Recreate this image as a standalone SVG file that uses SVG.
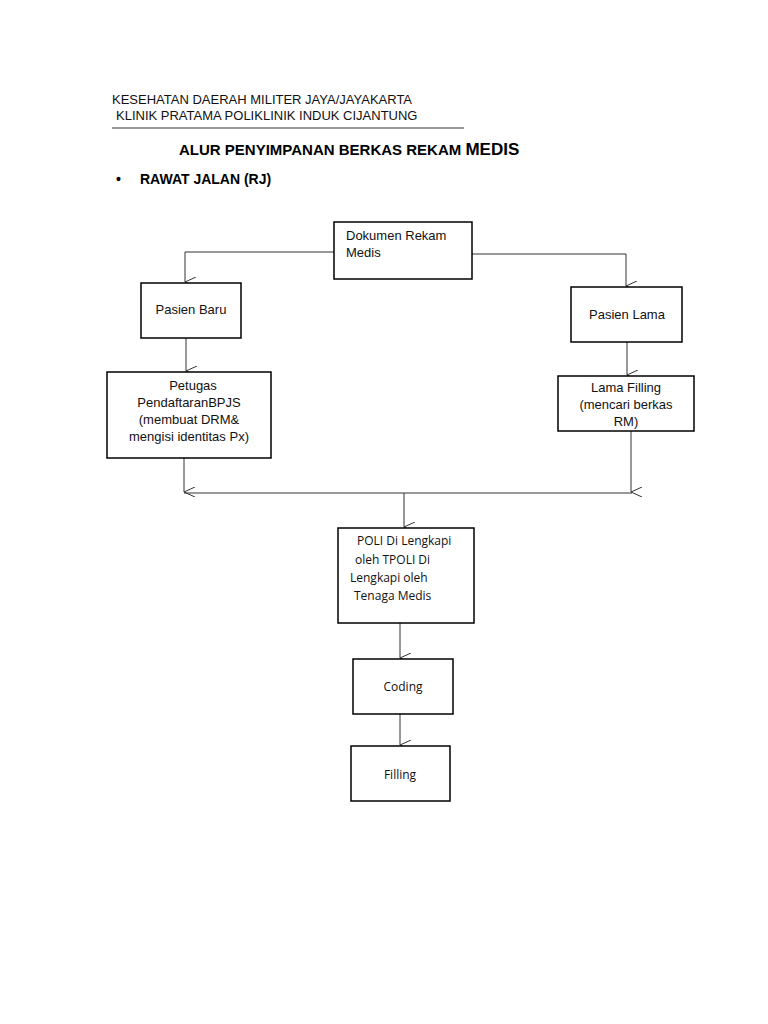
<svg xmlns="http://www.w3.org/2000/svg" width="768" height="1024" viewBox="0 0 768 1024">
<style>
.b{fill:#fff;stroke:#000;stroke-width:1.5}
.t{font-family:"Liberation Sans",Arial,sans-serif;font-size:13px;fill:#111}
.c{font-family:"Open Sans","Liberation Sans",sans-serif;font-size:12px;fill:#111}
.l{fill:none;stroke:#333;stroke-width:1}
</style>
<defs><marker id="a" markerWidth="10" markerHeight="12" refX="5" refY="11" orient="auto" markerUnits="userSpaceOnUse" viewBox="0 0 10 12"><path d="M0,0 L5,11 L10,0" fill="none" stroke="#333" stroke-width="1"/></marker></defs>
<rect width="768" height="1024" fill="#fff"/>
<text class="t" x="112" y="104" font-size="14">KESEHATAN DAERAH MILITER JAYA/JAYAKARTA</text>
<text class="t" x="116" y="120" font-size="14">KLINIK PRATAMA POLIKLINIK INDUK CIJANTUNG</text>
<line x1="112" y1="128" x2="464" y2="128" stroke="#777" stroke-width="1.5"/>
<text x="179" y="155" font-family="Liberation Sans,Arial,sans-serif" font-weight="bold" font-size="15">ALUR PENYIMPANAN BERKAS REKAM <tspan font-size="17">MEDIS</tspan></text>
<text x="116" y="184" font-family="Liberation Sans,Arial,sans-serif" font-weight="bold" font-size="14">•</text>
<text x="140" y="184" font-family="Liberation Sans,Arial,sans-serif" font-weight="bold" font-size="14">RAWAT JALAN (RJ)</text>
<g id="connectors">
<path class="l" d="M334,252 H185 V282" marker-end="url(#a)"/>
<path class="l" d="M472,254 H626 V286" marker-end="url(#a)"/>
<path class="l" d="M186,338 V371" marker-end="url(#a)"/>
<path class="l" d="M627,342 V375" marker-end="url(#a)"/>
<path class="l" d="M184,458 V492" marker-end="url(#a)"/>
<path class="l" d="M631,431 V492" marker-end="url(#a)"/>
<path class="l" d="M184,493 H632"/>
<path class="l" d="M404,493 V527" marker-end="url(#a)"/>
<path class="l" d="M400,623 V658" marker-end="url(#a)"/>
<path class="l" d="M400,714 V745" marker-end="url(#a)"/>
</g>
<g id="dokumen"><rect class="b" x="334" y="222" width="138" height="57"/><text class="t" x="346" y="240">Dokumen Rekam</text><text class="t" x="346" y="257">Medis</text></g>
<g id="baru"><rect class="b" x="141" y="283" width="100" height="55"/><text class="t" x="191" y="314" text-anchor="middle">Pasien Baru</text></g>
<g id="petugas"><rect class="b" x="107" y="372" width="164" height="86"/>
<text class="t" text-anchor="middle"><tspan x="193" y="390">Petugas</tspan><tspan x="189" y="407">PendaftaranBPJS</tspan><tspan x="189" y="424">(membuat DRM&amp;</tspan><tspan x="189" y="441">mengisi identitas Px)</tspan></text></g>
<g id="lama"><rect class="b" x="571" y="287" width="111" height="55"/><text class="t" x="627" y="319" text-anchor="middle">Pasien Lama</text></g>
<g id="lamafilling"><rect class="b" x="558" y="376" width="136" height="55"/>
<text class="t" text-anchor="middle"><tspan x="626" y="392">Lama Filling</tspan><tspan x="626" y="409">(mencari berkas</tspan><tspan x="626" y="426">RM)</tspan></text></g>
<g id="poli"><rect class="b" x="338" y="528" width="136" height="95"/>
<text class="c"><tspan x="357" y="545">POLI Di Lengkapi</tspan><tspan x="355" y="564">oleh TPOLI Di</tspan><tspan x="350" y="582">Lengkapi oleh</tspan><tspan x="354" y="600">Tenaga Medis</tspan></text></g>
<g id="coding"><rect class="b" x="353" y="659" width="100" height="55" stroke-width="2.5"/><text class="c" x="403" y="691" text-anchor="middle">Coding</text></g>
<g id="filling"><rect class="b" x="351" y="746" width="99" height="55"/><text class="c" x="400" y="779" text-anchor="middle">Filling</text></g>
</svg>
